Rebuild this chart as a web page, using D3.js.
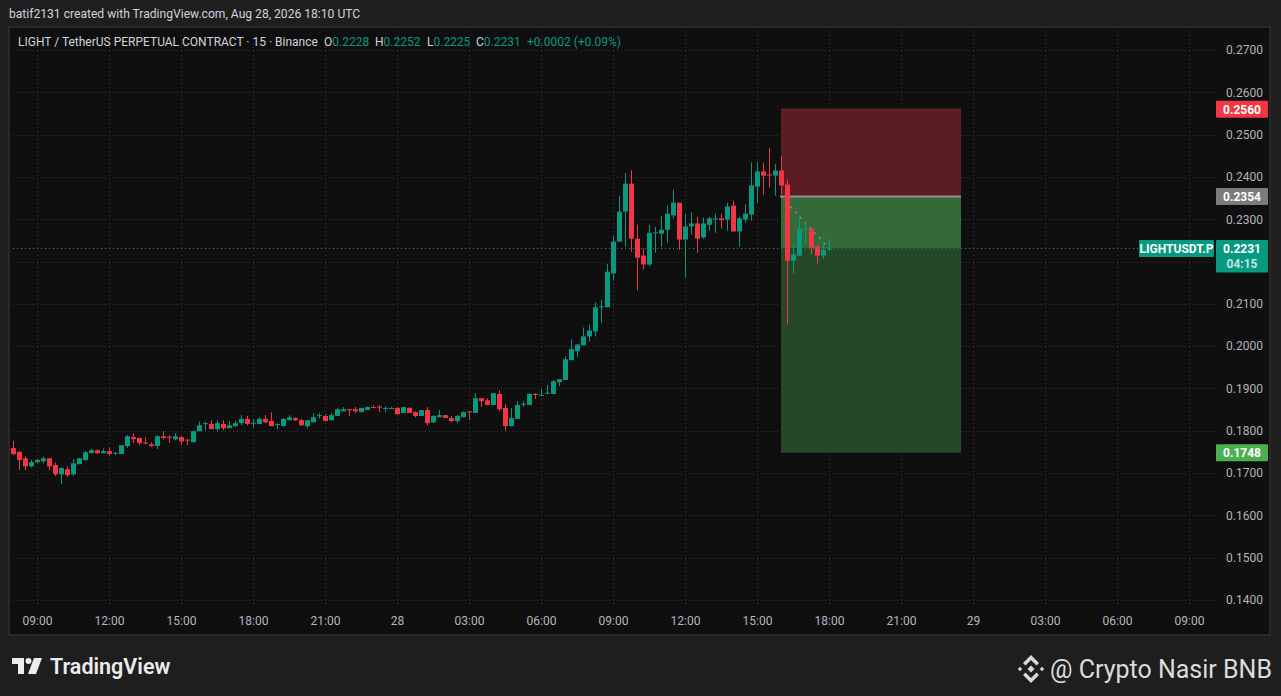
<!DOCTYPE html>
<html>
<head>
<meta charset="utf-8">
<script src="https://cdn.jsdelivr.net/npm/d3@7"></script>
<style>
  html, body { margin: 0; padding: 0; background: #1e1e1e; }
  svg { display: block; }
  text { font-family: Roboto, "Noto Sans", sans-serif; }
</style>
</head>
<body>
<svg id="chart"></svg>
<script>
const width = 1281, height = 696;

const creditLine = "batif2131 created with TradingView.com, Aug 28, 2026 18:10 UTC";
const symbolTitle = "LIGHT / TetherUS PERPETUAL CONTRACT \u00b7 15 \u00b7 Binance";
const changeText = "+0.0002 (+0.09%)";
const tickerLabel = "LIGHTUSDT.P";
const countdown = "04:15";
const watermark = "@ Crypto Nasir BNB";

// 15 minute bars, first one at Aug 27 08:00 UTC
const firstBar = new Date(Date.UTC(2026, 7, 27, 8, 0));
const barMs = 15 * 60 * 1000;

const opens = [
  0.1759, 0.1750, 0.1735, 0.1716, 0.1726, 0.1728, 0.1735, 0.1719, 0.1697, 0.1709,
  0.1697, 0.1721, 0.1731, 0.1747, 0.1754, 0.1747, 0.1752, 0.1746, 0.1745, 0.1764,
  0.1785, 0.1783, 0.1772, 0.1768, 0.1764, 0.1787, 0.1786, 0.1780, 0.1785, 0.1779,
  0.1773, 0.1799, 0.1816, 0.1816, 0.1804, 0.1816, 0.1806, 0.1811, 0.1818, 0.1828,
  0.1817, 0.1816, 0.1828, 0.1823, 0.1815, 0.1811, 0.1825, 0.1830, 0.1825, 0.1811,
  0.1820, 0.1835, 0.1835, 0.1825, 0.1835, 0.1846, 0.1851, 0.1851, 0.1844, 0.1849,
  0.1856, 0.1857, 0.1853, 0.1853, 0.1854, 0.1842, 0.1854, 0.1844, 0.1835, 0.1849,
  0.1820, 0.1832, 0.1837, 0.1830, 0.1823, 0.1832, 0.1846, 0.1842, 0.1877, 0.1872,
  0.1861, 0.1887, 0.1854, 0.1811, 0.1828, 0.1862, 0.1861, 0.1887, 0.1883, 0.1888,
  0.1887, 0.1915, 0.1920, 0.1967, 0.1988, 0.2002, 0.2023, 0.2035, 0.2092, 0.2092,
  0.2172, 0.2247, 0.2318, 0.2384, 0.2254, 0.2214, 0.2193, 0.2267, 0.2266, 0.2275,
  0.2309, 0.2339, 0.2252, 0.2283, 0.2290, 0.2257, 0.2287, 0.2300, 0.2302, 0.2299,
  0.2332, 0.2271, 0.2299, 0.2311, 0.2377, 0.2413, 0.2406, 0.2403, 0.2415, 0.2382,
  0.2202, 0.2214, 0.2276, 0.2278, 0.2235, 0.2214, 0.2228
];
const highs = [
  0.1776, 0.1752, 0.1740, 0.1731, 0.1734, 0.1739, 0.1735, 0.1725, 0.1713, 0.1716,
  0.1733, 0.1735, 0.1752, 0.1757, 0.1756, 0.1758, 0.1760, 0.1750, 0.1766, 0.1790,
  0.1794, 0.1784, 0.1785, 0.1773, 0.1790, 0.1799, 0.1789, 0.1794, 0.1787, 0.1780,
  0.1801, 0.1822, 0.1822, 0.1825, 0.1825, 0.1825, 0.1823, 0.1823, 0.1837, 0.1835,
  0.1828, 0.1832, 0.1837, 0.1844, 0.1818, 0.1830, 0.1837, 0.1832, 0.1828, 0.1825,
  0.1842, 0.1842, 0.1839, 0.1842, 0.1853, 0.1856, 0.1851, 0.1856, 0.1854, 0.1858,
  0.1861, 0.1861, 0.1858, 0.1856, 0.1856, 0.1856, 0.1856, 0.1846, 0.1849, 0.1856,
  0.1837, 0.1849, 0.1837, 0.1835, 0.1837, 0.1846, 0.1846, 0.1889, 0.1877, 0.1877,
  0.1889, 0.1896, 0.1863, 0.1854, 0.1870, 0.1870, 0.1889, 0.1889, 0.1898, 0.1908,
  0.1920, 0.1922, 0.1976, 0.2016, 0.2004, 0.2044, 0.2051, 0.2103, 0.2110, 0.2195,
  0.2261, 0.2355, 0.2409, 0.2416, 0.2287, 0.2231, 0.2287, 0.2282, 0.2308, 0.2332,
  0.2370, 0.2339, 0.2313, 0.2316, 0.2306, 0.2304, 0.2306, 0.2313, 0.2313, 0.2339,
  0.2344, 0.2306, 0.2335, 0.2434, 0.2436, 0.2434, 0.2469, 0.2431, 0.2450, 0.2394,
  0.2243, 0.2306, 0.2292, 0.2278, 0.2240, 0.2247, 0.2252
];
const lows = [
  0.1742, 0.1707, 0.1707, 0.1713, 0.1723, 0.1723, 0.1707, 0.1693, 0.1674, 0.1690,
  0.1693, 0.1721, 0.1728, 0.1747, 0.1746, 0.1747, 0.1741, 0.1742, 0.1745, 0.1760,
  0.1771, 0.1766, 0.1768, 0.1762, 0.1757, 0.1780, 0.1771, 0.1778, 0.1766, 0.1766,
  0.1773, 0.1799, 0.1801, 0.1804, 0.1799, 0.1801, 0.1806, 0.1809, 0.1813, 0.1813,
  0.1806, 0.1816, 0.1818, 0.1811, 0.1804, 0.1811, 0.1825, 0.1823, 0.1811, 0.1806,
  0.1820, 0.1829, 0.1823, 0.1825, 0.1835, 0.1846, 0.1835, 0.1842, 0.1844, 0.1849,
  0.1854, 0.1844, 0.1844, 0.1851, 0.1839, 0.1842, 0.1842, 0.1832, 0.1835, 0.1813,
  0.1818, 0.1832, 0.1830, 0.1820, 0.1818, 0.1832, 0.1825, 0.1842, 0.1856, 0.1861,
  0.1861, 0.1846, 0.1801, 0.1811, 0.1828, 0.1856, 0.1861, 0.1875, 0.1882, 0.1887,
  0.1887, 0.1905, 0.1920, 0.1967, 0.1974, 0.2002, 0.2011, 0.2023, 0.2054, 0.2092,
  0.2155, 0.2247, 0.2235, 0.2223, 0.2132, 0.2181, 0.2190, 0.2221, 0.2235, 0.2245,
  0.2302, 0.2228, 0.2162, 0.2264, 0.2221, 0.2254, 0.2273, 0.2268, 0.2278, 0.2273,
  0.2271, 0.2235, 0.2292, 0.2297, 0.2339, 0.2358, 0.2375, 0.2356, 0.2358, 0.2051,
  0.2172, 0.2214, 0.2243, 0.2217, 0.2195, 0.2207, 0.2225
];
const closes = [
  0.1745, 0.1731, 0.1716, 0.1726, 0.1731, 0.1735, 0.1716, 0.1697, 0.1712, 0.1695,
  0.1723, 0.1735, 0.1749, 0.1754, 0.1747, 0.1752, 0.1745, 0.1748, 0.1766, 0.1787,
  0.1780, 0.1771, 0.1770, 0.1764, 0.1787, 0.1783, 0.1784, 0.1787, 0.1775, 0.1777,
  0.1799, 0.1813, 0.1818, 0.1804, 0.1818, 0.1806, 0.1813, 0.1818, 0.1828, 0.1816,
  0.1819, 0.1828, 0.1820, 0.1811, 0.1816, 0.1828, 0.1832, 0.1825, 0.1813, 0.1825,
  0.1832, 0.1837, 0.1823, 0.1837, 0.1851, 0.1851, 0.1849, 0.1846, 0.1854, 0.1856,
  0.1854, 0.1855, 0.1854, 0.1854, 0.1839, 0.1856, 0.1842, 0.1835, 0.1849, 0.1818,
  0.1835, 0.1837, 0.1830, 0.1823, 0.1835, 0.1844, 0.1845, 0.1877, 0.1870, 0.1861,
  0.1889, 0.1851, 0.1811, 0.1830, 0.1861, 0.1864, 0.1887, 0.1886, 0.1885, 0.1890,
  0.1917, 0.1922, 0.1969, 0.1993, 0.2004, 0.2023, 0.2037, 0.2092, 0.2094, 0.2176,
  0.2247, 0.2318, 0.2384, 0.2254, 0.2209, 0.2193, 0.2268, 0.2269, 0.2275, 0.2313,
  0.2339, 0.2252, 0.2283, 0.2290, 0.2254, 0.2290, 0.2302, 0.2302, 0.2298, 0.2330,
  0.2271, 0.2302, 0.2313, 0.2380, 0.2413, 0.2403, 0.2404, 0.2415, 0.2380, 0.2202,
  0.2217, 0.2278, 0.2278, 0.2233, 0.2214, 0.2228, 0.2231
];

// long position tool
const stopPrice = 0.2560;
const entryPrice = 0.2354;
const targetPrice = 0.1748;
const positionStart = new Date(Date.UTC(2026, 7, 28, 16, 0));
const positionEnd = new Date(Date.UTC(2026, 7, 28, 23, 30));

const priceTicks = d3.range(14, 28).map(d => d / 100);
const timeTicks = d3.utcHour.every(3).range(
  new Date(Date.UTC(2026, 7, 27, 9)), new Date(Date.UTC(2026, 7, 29, 10)));

const up = "#089981", down = "#f23645";
const grid = "#3a3a3a";
const axisText = "#b2b5be";

const bars = opens.map((o, i) => ({
  t: new Date(+firstBar + i * barMs), o, h: highs[i], l: lows[i], c: closes[i]
}));
const last = bars[bars.length - 1];

const panel = {left: 9, top: 27, right: 1270, bottom: 635};
const plotRight = 1215, plotBottom = 607;

const x = d3.scaleUtc()
    .domain([firstBar, new Date(Date.UTC(2026, 7, 29, 9))])
    .range([13, 1189]);
const y = d3.scaleLinear().domain([0.14, 0.27]).range([600, 50]);

const svg = d3.select("#chart")
    .attr("width", width)
    .attr("height", height)
    .attr("viewBox", [0, 0, width, height]);

svg.append("rect").attr("width", width).attr("height", height).attr("fill", "#1e1e1e");

svg.append("text")
    .attr("x", 9).attr("y", 18)
    .attr("fill", "#d1d4dc").attr("font-size", 12.1)
    .text(creditLine);

svg.append("rect")
    .attr("x", panel.left).attr("y", panel.top)
    .attr("width", panel.right - panel.left).attr("height", panel.bottom - panel.top)
    .attr("fill", "#0f0f0f").attr("stroke", "#2f2f2f").attr("stroke-width", 1.5);

svg.append("clipPath").attr("id", "plot")
  .append("rect")
    .attr("x", panel.left + 1).attr("y", panel.top + 1)
    .attr("width", plotRight - panel.left - 1).attr("height", plotBottom - panel.top - 1);

const plot = svg.append("g").attr("clip-path", "url(#plot)");

// grid
plot.append("g")
    .attr("stroke", grid).attr("stroke-dasharray", "1,3")
  .selectAll("line")
  .data(priceTicks)
  .join("line")
    .attr("x1", panel.left).attr("x2", plotRight)
    .attr("y1", d => Math.round(y(d)) + 0.5).attr("y2", d => Math.round(y(d)) + 0.5);

plot.append("g")
    .attr("stroke", grid).attr("stroke-dasharray", "1,3")
  .selectAll("line")
  .data(timeTicks)
  .join("line")
    .attr("x1", d => Math.round(x(d)) + 0.5).attr("x2", d => Math.round(x(d)) + 0.5)
    .attr("y1", panel.top).attr("y2", plotBottom);

// position zones
const px0 = x(positionStart), px1 = x(positionEnd);
plot.append("rect")
    .attr("x", px0).attr("width", px1 - px0)
    .attr("y", y(stopPrice)).attr("height", y(entryPrice) - y(stopPrice))
    .attr("fill", "#5b1d23");
plot.append("line")
    .attr("x1", px0).attr("x2", px1)
    .attr("y1", y(stopPrice)).attr("y2", y(stopPrice))
    .attr("stroke", "#7a2630").attr("stroke-width", 1);
plot.append("rect")
    .attr("x", px0).attr("width", px1 - px0)
    .attr("y", y(entryPrice)).attr("height", y(last.c) - y(entryPrice))
    .attr("fill", "#336a38");
plot.append("rect")
    .attr("x", px0).attr("width", px1 - px0)
    .attr("y", y(last.c)).attr("height", y(targetPrice) - y(last.c))
    .attr("fill", "#254828");
plot.append("line")
    .attr("x1", px0 - 1).attr("x2", px1)
    .attr("y1", y(entryPrice)).attr("y2", y(entryPrice))
    .attr("stroke", "#8e8e8e").attr("stroke-width", 2);
plot.append("line")
    .attr("x1", px0).attr("y1", y(entryPrice))
    .attr("x2", x(last.t)).attr("y2", y(last.c))
    .attr("stroke", "#8a8d96").attr("stroke-width", 1.5)
    .attr("stroke-dasharray", "2,5");

// current price line
plot.append("line")
    .attr("x1", panel.left).attr("x2", 1139)
    .attr("y1", Math.round(y(last.c)) + 0.5).attr("y2", Math.round(y(last.c)) + 0.5)
    .attr("stroke", up).attr("stroke-dasharray", "1,3").attr("stroke-width", 1.2);

// candles
const candle = plot.append("g")
  .selectAll("g")
  .data(bars)
  .join("g")
    .attr("fill", d => d.c >= d.o ? up : down)
    .attr("stroke", d => d.c >= d.o ? up : down);

candle.append("line")
    .attr("x1", d => Math.round(x(d.t)) + 0.5).attr("x2", d => Math.round(x(d.t)) + 0.5)
    .attr("y1", d => y(d.h)).attr("y2", d => y(d.l));

candle.append("rect")
    .attr("stroke", "none")
    .attr("x", d => Math.round(x(d.t)) - 2)
    .attr("width", 5)
    .attr("y", d => y(Math.max(d.o, d.c)))
    .attr("height", d => Math.max(1, Math.abs(y(d.o) - y(d.c))));

// legend line
const legend = svg.append("text")
    .attr("y", 46).attr("font-size", 12).attr("fill", "#d1d4dc");
legend.append("tspan").attr("x", 18).text(symbolTitle);
const fmt4 = d3.format(".4f");
[["O", last.o, 324], ["H", last.h, 375], ["L", last.l, 427], ["C", last.c, 476]].forEach(([k, v, px]) => {
  legend.append("tspan").attr("x", px).text(k);
  legend.append("tspan").attr("fill", up).text(fmt4(v));
});
legend.append("tspan").attr("x", 527).attr("fill", up).text(changeText);

// price badges
const badges = [
  {price: stopPrice, color: down, h0: 8.5, h1: 8.5},
  {price: entryPrice, color: "#7b7b7b", h0: 8.5, h1: 8.5},
  {price: last.c, color: up, h0: 8.5, h1: 24},
  {price: targetPrice, color: "#4caf50", h0: 8.5, h1: 8.5}
];
const visibleTicks = priceTicks.filter(p =>
  !badges.some(b => y(p) > y(b.price) - b.h0 - 6 && y(p) < y(b.price) + b.h1 + 6));

svg.append("g")
    .attr("transform", "translate(1226,0)")
    .call(d3.axisRight(y).tickValues(visibleTicks).tickFormat(fmt4).tickSize(0).tickPadding(0))
    .call(g => g.select(".domain").remove())
    .call(g => g.selectAll("text")
        .attr("fill", axisText).attr("font-size", 12)
        .attr("font-family", "Roboto, sans-serif"));

svg.append("g")
    .attr("transform", `translate(0,${plotBottom + 9})`)
    .call(d3.axisBottom(x).tickValues(timeTicks).tickSize(0).tickPadding(0)
        .tickFormat(d => d.getUTCHours() === 0 ? d3.utcFormat("%-d")(d) : d3.utcFormat("%H:%M")(d)))
    .call(g => g.select(".domain").remove())
    .call(g => g.selectAll("text")
        .attr("fill", axisText).attr("font-size", 12)
        .attr("font-family", "Roboto, sans-serif"));

const badge = svg.append("g").attr("font-size", 12).attr("font-weight", 700)
    .attr("text-anchor", "middle").attr("fill", "#ffffff");
badges.forEach(b => {
  const cy = y(b.price);
  badge.append("rect")
      .attr("x", 1216).attr("width", 52)
      .attr("y", cy - b.h0).attr("height", b.h0 + b.h1)
      .attr("rx", 1).attr("fill", b.color);
  badge.append("text").attr("x", 1242).attr("y", cy).attr("dy", "0.36em").text(fmt4(b.price));
});
const cy = y(last.c);
badge.append("text").attr("x", 1242).attr("y", cy + 15).attr("dy", "0.36em")
    .attr("fill-opacity", 0.75).text(countdown);
badge.append("rect")
    .attr("x", 1139).attr("width", 75)
    .attr("y", cy - 8.5).attr("height", 17)
    .attr("rx", 1).attr("fill", up);
badge.append("text").attr("x", 1176.5).attr("y", cy).attr("dy", "0.36em").text(tickerLabel);

// footer: TradingView logo
const logo = svg.append("g").attr("fill", "#ececec");
logo.append("path").attr("d", "M12,658 H24 V674 H18 V664 H12 Z");
logo.append("circle").attr("cx", 28.5).attr("cy", 661).attr("r", 3);
logo.append("path").attr("d", "M34,658 H42 L36,674 H28 Z");
svg.append("text")
    .attr("x", 50).attr("y", 674)
    .attr("font-family", "Inter, Roboto, sans-serif")
    .attr("font-size", 21.5).attr("font-weight", 600)
    .attr("fill", "#ececec")
    .text("TradingView");

// footer: Binance mark and watermark
const bnb = svg.append("g").attr("fill", "#d9d9d9").attr("transform", "translate(1031,669)");
const diamond = s => `M0,${-s} L${s},0 L0,${s} L${-s},0 Z`;
bnb.append("path").attr("d", diamond(3.5));
bnb.append("path").attr("d", diamond(2.2)).attr("transform", "translate(-11,0)");
bnb.append("path").attr("d", diamond(2.2)).attr("transform", "translate(11,0)");
bnb.append("path").attr("d", "M0,-14 L8,-6 L5.5,-3.5 L0,-9 L-5.5,-3.5 L-8,-6 Z");
bnb.append("path").attr("d", "M0,14 L8,6 L5.5,3.5 L0,9 L-5.5,3.5 L-8,6 Z");
svg.append("text")
    .attr("x", 1272).attr("y", 678)
    .attr("text-anchor", "end")
    .attr("font-family", "'Open Sans', 'Noto Sans', sans-serif")
    .attr("font-size", 25)
    .attr("fill", "#dcdcdc")
    .text(watermark);
</script>
</body>
</html>
